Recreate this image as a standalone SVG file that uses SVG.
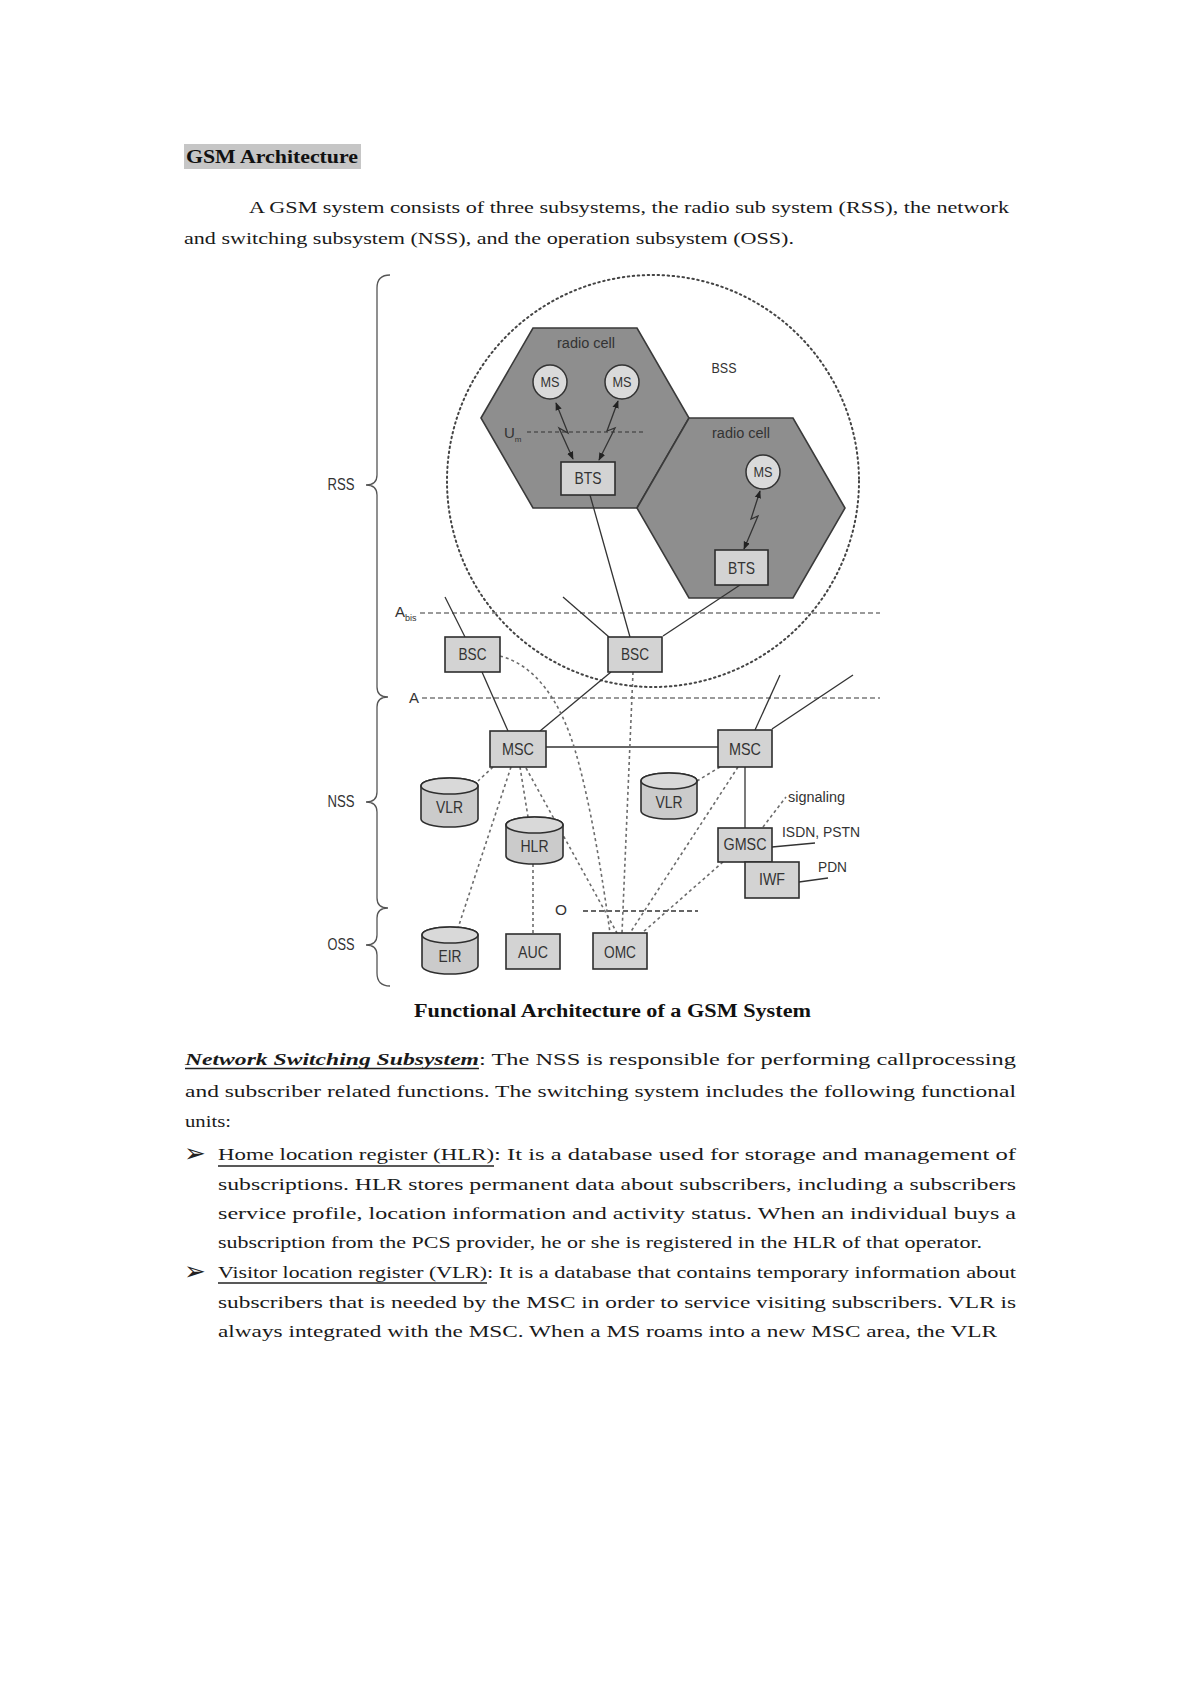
<svg xmlns="http://www.w3.org/2000/svg" width="1200" height="1698" viewBox="0 0 1200 1698">
<defs>
<style>
.box{fill:#d3d3d3;stroke:#2e2e2e;stroke-width:1.6}
.cyl{fill:#cbcbcb;stroke:#2e2e2e;stroke-width:1.6}
.cyltop{fill:#d9d9d9;stroke:#2e2e2e;stroke-width:1.6}
.hex{fill:#8e8e8e;stroke:#3a3a3a;stroke-width:1.6}
.ms{fill:#dadada;stroke:#333;stroke-width:1.5}
.lbl{font-family:"Liberation Sans",Arial,sans-serif;fill:#333;text-anchor:middle}
.lbll{font-family:"Liberation Sans",Arial,sans-serif;fill:#333}
.sol{stroke:#333;stroke-width:1.3;fill:none}
.dsh{stroke:#6c6c6c;stroke-width:1.6;stroke-dasharray:3 3;fill:none}
.dot{stroke:#444;stroke-width:2;stroke-dasharray:1.5 3.5;stroke-linecap:round;fill:none}
.ifc{stroke:#7a7a7a;stroke-width:1.3;stroke-dasharray:5 3;fill:none}
.body{font-family:"Liberation Serif","Times New Roman",serif;font-size:17px;fill:#1a1a1a}
.bold{font-family:"Liberation Serif","Times New Roman",serif;font-size:18px;font-weight:bold;fill:#111}
.ul{stroke:#222;stroke-width:1.4}
.blt{font-family:"DejaVu Sans",sans-serif;font-size:26px;fill:#222}
</style>
<marker id="ah" viewBox="0 0 10 10" refX="9" refY="5" markerWidth="8" markerHeight="8" markerUnits="userSpaceOnUse" orient="auto-start-reverse">
<path d="M0,1 L10,5 L0,9 z" fill="#222"/>
</marker>
</defs>
<rect width="1200" height="1698" fill="#ffffff"/>

<!-- Page text -->
<g id="page-text">
<rect x="184" y="144" width="177" height="25" fill="#c6c6c6"/>
<text class="bold" x="186" y="163" textLength="172" lengthAdjust="spacingAndGlyphs">GSM Architecture</text>
<text class="body" x="249" y="213" textLength="760" lengthAdjust="spacingAndGlyphs">A GSM system consists of three subsystems, the radio sub system (RSS), the network</text>
<text class="body" x="184" y="244" textLength="610" lengthAdjust="spacingAndGlyphs">and switching subsystem (NSS), and the operation subsystem (OSS).</text>
<text class="bold" x="414" y="1017" textLength="397" lengthAdjust="spacingAndGlyphs">Functional Architecture of a GSM System</text>

<text class="body" x="185" y="1065" font-weight="bold" font-style="italic" textLength="294" lengthAdjust="spacingAndGlyphs">Network Switching Subsystem</text>
<line class="ul" x1="185" y1="1068.5" x2="479" y2="1068.5" stroke-width="1.8"/>
<text class="body" x="479" y="1065" textLength="537" lengthAdjust="spacingAndGlyphs">: The NSS is responsible for performing callprocessing</text>
<text class="body" x="185" y="1097" textLength="831" lengthAdjust="spacingAndGlyphs">and subscriber related functions. The switching system includes the following functional</text>
<text class="body" x="185" y="1127" textLength="46" lengthAdjust="spacingAndGlyphs">units:</text>

<text class="blt" x="184" y="1162">➢</text>
<text class="body" x="218" y="1160" textLength="276" lengthAdjust="spacingAndGlyphs">Home location register (HLR)</text>
<line class="ul" x1="218" y1="1166" x2="494" y2="1166" stroke="#777" stroke-width="1"/>
<text class="body" x="494" y="1160" textLength="522" lengthAdjust="spacingAndGlyphs">: It is a database used for storage and management of</text>
<text class="body" x="218" y="1190" textLength="798" lengthAdjust="spacingAndGlyphs">subscriptions. HLR stores permanent data about subscribers, including a subscribers</text>
<text class="body" x="218" y="1219" textLength="798" lengthAdjust="spacingAndGlyphs">service profile, location information and activity status. When an individual buys a</text>
<text class="body" x="218" y="1248" textLength="764" lengthAdjust="spacingAndGlyphs">subscription from the PCS provider, he or she is registered in the HLR of that operator.</text>

<text class="blt" x="184" y="1280">➢</text>
<text class="body" x="218" y="1278" textLength="269" lengthAdjust="spacingAndGlyphs">Visitor location register (VLR)</text>
<line class="ul" x1="218" y1="1283" x2="487" y2="1283" stroke-width="1.6"/>
<text class="body" x="487" y="1278" textLength="529" lengthAdjust="spacingAndGlyphs">: It is a database that contains temporary information about</text>
<text class="body" x="218" y="1308" textLength="798" lengthAdjust="spacingAndGlyphs">subscribers that is needed by the MSC in order to service visiting subscribers. VLR is</text>
<text class="body" x="218" y="1337" textLength="779" lengthAdjust="spacingAndGlyphs">always integrated with the MSC. When a MS roams into a new MSC area, the VLR</text>
</g>

<!-- Subsystem brace and labels -->
<g id="braces">
<path d="M390,275 Q377,275 377,288 L377,475 Q377,485 366,485 Q377,485 377,495 L377,687 Q377,697 388,697 Q377,697 377,707 L377,792 Q377,802 366,802 Q377,802 377,812 L377,898 Q377,908 388,908 Q377,908 377,918 L377,935 Q377,945 366,945 Q377,945 377,955 L377,973 Q377,986 390,986" fill="none" stroke="#555" stroke-width="1.3"/>
<text class="lbl" x="341" y="490" font-size="16" textLength="27" lengthAdjust="spacingAndGlyphs">RSS</text>
<text class="lbl" x="341" y="807" font-size="16" textLength="27" lengthAdjust="spacingAndGlyphs">NSS</text>
<text class="lbl" x="341" y="950" font-size="16" textLength="27" lengthAdjust="spacingAndGlyphs">OSS</text>
</g>

<!-- Radio cells -->
<g id="cell1">
<polygon class="hex" points="481,418 533,328 637,328 689,418 637,508 533,508"/>
<text class="lbl" x="586" y="348" font-size="14" textLength="58" lengthAdjust="spacingAndGlyphs">radio cell</text>
</g>
<g id="cell2">
<polygon class="hex" points="637,508 689,418 793,418 845,508 793,598 689,598"/>
<text class="lbl" x="741" y="438" font-size="14" textLength="58" lengthAdjust="spacingAndGlyphs">radio cell</text>
</g>

<g id="bss">
<circle cx="653" cy="481" r="206" class="dot"/>
<text class="lbl" x="724" y="373" font-size="15" textLength="25" lengthAdjust="spacingAndGlyphs">BSS</text>
</g>

<!-- Interface lines -->
<g id="interfaces">
<line class="ifc" x1="420" y1="613" x2="880" y2="613"/>
<text class="lbll" x="395" y="617" font-size="15">A<tspan font-size="9" dy="4">bis</tspan></text>
<line class="ifc" x1="422" y1="698" x2="880" y2="698"/>
<text class="lbll" x="409" y="703" font-size="15">A</text>
<line x1="583" y1="911" x2="698" y2="911" stroke="#333" stroke-width="1.6" stroke-dasharray="5 3"/>
<text class="lbl" x="561" y="915" font-size="15" textLength="12" lengthAdjust="spacingAndGlyphs">O</text>
<line x1="527" y1="432" x2="645" y2="432" stroke="#333" stroke-width="1.1" stroke-dasharray="4 3"/>
<text class="lbll" x="504" y="438" font-size="15">U<tspan font-size="8" dy="4">m</tspan></text>
</g>

<!-- Connectors -->
<g id="connectors">
<polyline class="sol" points="556,403 568,433 559,428 573,459" marker-start="url(#ah)" marker-end="url(#ah)"/>
<polyline class="sol" points="618,401 607,431 615,428 599,460" marker-start="url(#ah)" marker-end="url(#ah)"/>
<polyline class="sol" points="760,491 751,519 758,516 744,549" marker-start="url(#ah)" marker-end="url(#ah)"/>
<line class="sol" x1="590" y1="495" x2="630" y2="637"/>
<line class="sol" x1="740" y1="585" x2="663" y2="636"/>
<line class="sol" x1="563" y1="597" x2="609" y2="637"/>
<line class="sol" x1="445" y1="597" x2="465" y2="637"/>
<line class="sol" x1="482" y1="672" x2="508" y2="731"/>
<line class="sol" x1="611" y1="672" x2="540" y2="731"/>
<line class="sol" x1="546" y1="747" x2="718" y2="747"/>
<line class="sol" x1="780" y1="675" x2="755" y2="730"/>
<line class="sol" x1="853" y1="675" x2="772" y2="729"/>
<line class="sol" x1="745" y1="767" x2="745" y2="828"/>
<line class="sol" x1="772" y1="847" x2="815" y2="843"/>
<line class="sol" x1="799" y1="882" x2="828" y2="878"/>

<path class="dsh" d="M500,656 C535,665 560,700 575,750 C590,800 603,880 610,933"/>
<line class="dsh" x1="526" y1="768" x2="617" y2="933"/>
<line class="dsh" x1="633" y1="672" x2="622" y2="933"/>
<line class="dsh" x1="738" y1="767" x2="630" y2="933"/>
<line class="dsh" x1="723" y1="862" x2="642" y2="933"/>
<line class="dsh" x1="493" y1="767" x2="478" y2="781"/>
<line class="dsh" x1="511" y1="767" x2="458" y2="928"/>
<line class="dsh" x1="520" y1="767" x2="528" y2="817"/>
<line class="dsh" x1="533" y1="864" x2="533" y2="934"/>
<line class="dsh" x1="720" y1="767" x2="697" y2="781"/>
<line class="dsh" x1="763" y1="827" x2="786" y2="797"/>
</g>

<!-- Nodes -->
<g id="ms1"><circle class="ms" cx="550" cy="382" r="17"/><text class="lbl" x="550" y="387" font-size="15" textLength="19" lengthAdjust="spacingAndGlyphs">MS</text></g>
<g id="ms2"><circle class="ms" cx="622" cy="382" r="17"/><text class="lbl" x="622" y="387" font-size="15" textLength="19" lengthAdjust="spacingAndGlyphs">MS</text></g>
<g id="ms3"><circle class="ms" cx="763" cy="472" r="17"/><text class="lbl" x="763" y="477" font-size="15" textLength="19" lengthAdjust="spacingAndGlyphs">MS</text></g>

<g id="bts1"><rect class="box" x="561" y="462" width="54" height="33"/><text class="lbl" x="588" y="484" font-size="17" textLength="27" lengthAdjust="spacingAndGlyphs">BTS</text></g>
<g id="bts2"><rect class="box" x="715" y="550" width="53" height="35"/><text class="lbl" x="741.5" y="574" font-size="17" textLength="27" lengthAdjust="spacingAndGlyphs">BTS</text></g>
<g id="bsc1"><rect class="box" x="445" y="637" width="55" height="35"/><text class="lbl" x="472.5" y="660" font-size="17" textLength="28" lengthAdjust="spacingAndGlyphs">BSC</text></g>
<g id="bsc2"><rect class="box" x="608" y="637" width="54" height="35"/><text class="lbl" x="635" y="660" font-size="17" textLength="28" lengthAdjust="spacingAndGlyphs">BSC</text></g>
<g id="msc1"><rect class="box" x="490" y="731" width="56" height="36"/><text class="lbl" x="518" y="755" font-size="17" textLength="32" lengthAdjust="spacingAndGlyphs">MSC</text></g>
<g id="msc2"><rect class="box" x="718" y="730" width="54" height="37"/><text class="lbl" x="745" y="755" font-size="17" textLength="32" lengthAdjust="spacingAndGlyphs">MSC</text></g>

<g id="vlr1">
<path class="cyl" d="M421,786 A28.5,8 0 0 1 478,786 L478,819 A28.5,8 0 0 1 421,819 Z"/>
<ellipse class="cyltop" cx="449.5" cy="786" rx="28.5" ry="8"/>
<text class="lbl" x="449.5" y="813" font-size="17" textLength="27" lengthAdjust="spacingAndGlyphs">VLR</text>
</g>
<g id="hlr">
<path class="cyl" d="M506,825 A28.5,8 0 0 1 563,825 L563,856 A28.5,8 0 0 1 506,856 Z"/>
<ellipse class="cyltop" cx="534.5" cy="825" rx="28.5" ry="8"/>
<text class="lbl" x="534.5" y="852" font-size="17" textLength="28" lengthAdjust="spacingAndGlyphs">HLR</text>
</g>
<g id="vlr2">
<path class="cyl" d="M641,781 A28,8 0 0 1 697,781 L697,811 A28,8 0 0 1 641,811 Z"/>
<ellipse class="cyltop" cx="669" cy="781" rx="28" ry="8"/>
<text class="lbl" x="669" y="808" font-size="17" textLength="27" lengthAdjust="spacingAndGlyphs">VLR</text>
</g>
<g id="eir">
<path class="cyl" d="M422,935 A28,8 0 0 1 478,935 L478,966 A28,8 0 0 1 422,966 Z"/>
<ellipse class="cyltop" cx="450" cy="935" rx="28" ry="8"/>
<text class="lbl" x="450" y="962" font-size="17" textLength="23" lengthAdjust="spacingAndGlyphs">EIR</text>
</g>
<g id="auc"><rect class="box" x="506" y="934" width="54" height="35"/><text class="lbl" x="533" y="958" font-size="17" textLength="30" lengthAdjust="spacingAndGlyphs">AUC</text></g>
<g id="omc"><rect class="box" x="593" y="933" width="54" height="36"/><text class="lbl" x="620" y="958" font-size="17" textLength="32" lengthAdjust="spacingAndGlyphs">OMC</text></g>
<g id="gmsc"><rect class="box" x="718" y="828" width="54" height="34"/><text class="lbl" x="745" y="850" font-size="16" textLength="43" lengthAdjust="spacingAndGlyphs">GMSC</text></g>
<g id="iwf"><rect class="box" x="745" y="862" width="54" height="36"/><text class="lbl" x="772" y="885" font-size="17" textLength="26" lengthAdjust="spacingAndGlyphs">IWF</text></g>

<g id="external-labels">
<text class="lbll" x="788" y="802" font-size="14" textLength="57" lengthAdjust="spacingAndGlyphs">signaling</text>
<text class="lbll" x="782" y="837" font-size="14" textLength="78" lengthAdjust="spacingAndGlyphs">ISDN, PSTN</text>
<text class="lbll" x="818" y="872" font-size="14" textLength="29" lengthAdjust="spacingAndGlyphs">PDN</text>
</g>
</svg>
